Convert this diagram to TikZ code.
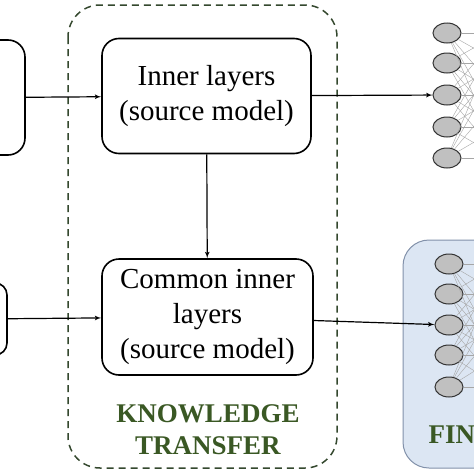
\documentclass[tikz,border=0pt]{standalone}
\usepackage{fontspec}
\setmainfont{Liberation Serif}
\usetikzlibrary{arrows,shapes.geometric}
\definecolor{kgreen}{RGB}{58,88,36}
\definecolor{dashgreen}{RGB}{52,72,46}
\definecolor{panelblue}{RGB}{220,230,243}
\definecolor{panelline}{RGB}{130,145,170}
\definecolor{neurongray}{RGB}{192,192,192}

\begin{document}
\begin{tikzpicture}[x=1pt, y=-1pt]
	\tikzset{block/.style = {shape=rectangle, draw, line width=1.6pt, rounded corners=17pt, align=center, font=\fontsize{29}{35}\selectfont}}
	\tikzset{edge/.style = {->, > = latex', line width=1.2pt}}
	\tikzset{neuron/.style = {shape=ellipse, draw=black!80, line width=1pt, fill=neurongray, minimum width=28pt, minimum height=20pt, inner sep=0pt}}
	\tikzset{wire/.style = {gray!70, line width=0.4pt}}
	\tikzset{tag/.style = {text=kgreen, font=\fontsize{27}{32}\selectfont\bfseries, align=center}}
	\clip (0,0) rectangle (474,474);
	\fill[white] (0,0) rectangle (474,474);
	% knowledge transfer frame
	\draw[dashgreen, dash pattern=on 7pt off 5pt, line width=1.5pt, rounded corners=32pt] (68,5) rectangle (337,468);
	\node[tag] (kt) at (208,430) {KNOWLEDGE\\TRANSFER};
	% fine-tuning panel
	\draw[panelline, fill=panelblue, line width=1pt, rounded corners=26pt] (403,240) rectangle (540,468);
	\node[tag, anchor=base west] (ft) at (425,443) {FINE-TUNING};
	% blocks
	\node[block, minimum width=60pt, minimum height=115pt] (in1) at (-5,97.5) {};
	\node[block, minimum width=60pt, minimum height=72pt, rounded corners=12pt] (in2) at (-23,319) {};
	\node[block, minimum width=209pt, minimum height=115pt] (inner) at (206.5,96) {Inner layers\\(source model)};
	\node[block, minimum width=211pt, minimum height=116pt] (common) at (207.5,317) {Common inner\\layers\\(source model)};
	% neurons
	\foreach \i/\y in {1/33, 2/63, 3/95, 4/127, 5/158}
	{
		\coordinate (th\i) at (500,\y);
		\node[neuron] (t\i) at (447,\y) {};
	}
	\foreach \i/\y in {1/264, 2/294, 3/325, 4/355, 5/387}
	{
		\coordinate (bh\i) at (500,\y);
		\node[neuron] (b\i) at (449,\y) {};
	}
	\foreach \i in {1,...,5}
		\foreach \j in {1,...,5}
		{
			\draw[wire] (t\i) -- (th\j);
			\draw[wire] (b\i) -- (bh\j);
		}
	% connectors
	\draw[edge] (in1) to (inner);
	\draw[edge] (in2) to (common);
	\draw[edge] (inner) to (common);
	\draw[edge] (inner) to (t3);
	\draw[edge] (common) to (b3);
\end{tikzpicture}
\end{document}
